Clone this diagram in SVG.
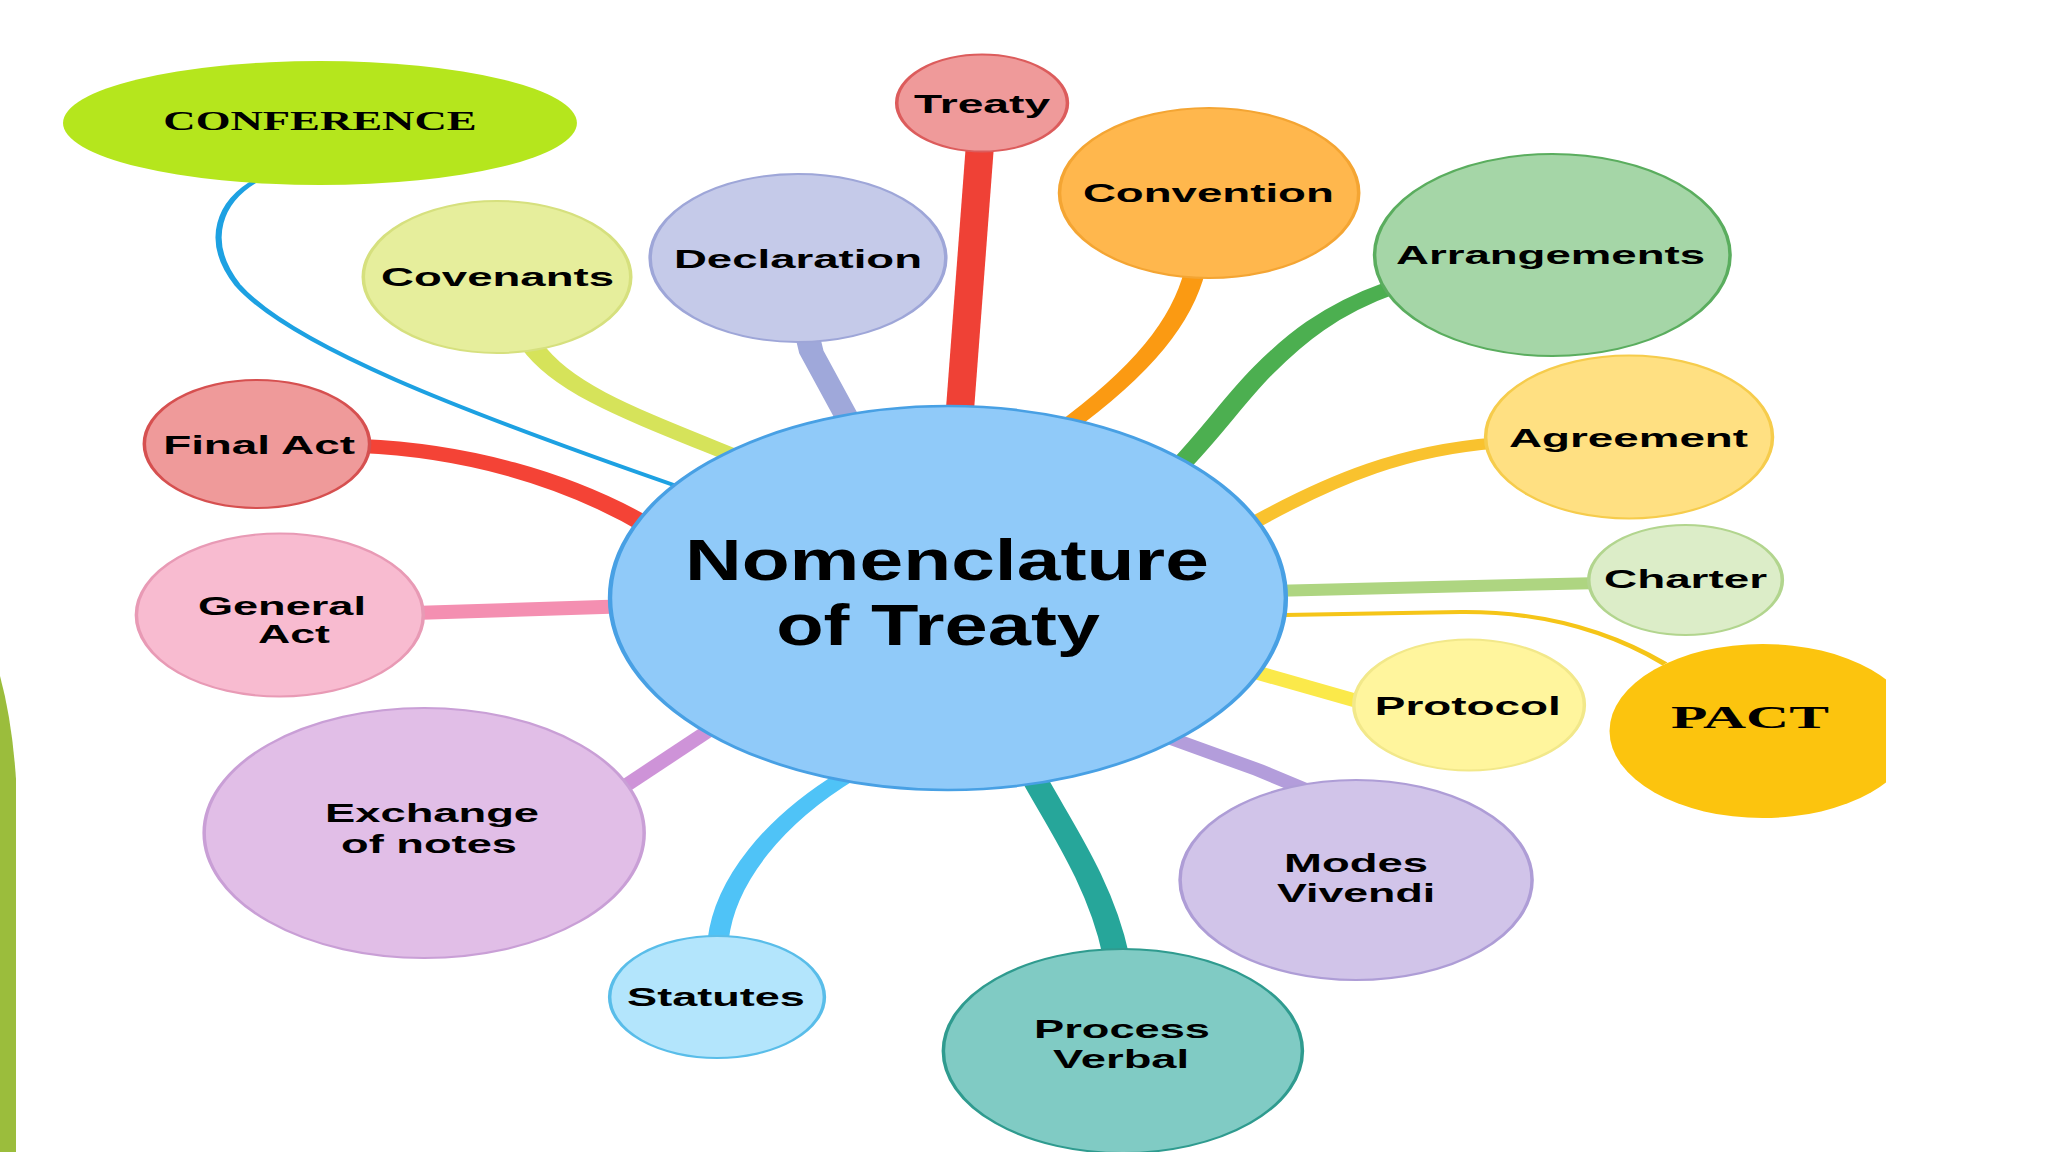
<svg xmlns="http://www.w3.org/2000/svg" width="2048" height="1152" viewBox="0 0 2048 1152">
<defs>
<style>
.lbl{font-family:"Liberation Sans",Arial,Helvetica,sans-serif;font-weight:bold;font-size:25.7px;fill:#000;text-anchor:middle}
.ser{font-family:"Liberation Serif","Times New Roman",serif;font-weight:bold;fill:#000;text-anchor:middle}
.title{font-size:57px}
.link{fill:none;stroke-linecap:butt;stroke-linejoin:round}
.node{stroke-width:2}
</style>
<clipPath id="pactClip"><rect x="880" y="600" width="191.6" height="260"/></clipPath>
</defs>
<rect width="2048" height="1152" fill="#ffffff"/>
<path id="sidebar" d="M0 676 Q12 720 16 779 L16 1152 L0 1152 Z" fill="#9bbd3c"/>
<g transform="scale(1.76 1)">
<g id="connectors">
<path class="link" d="M147 179 C125 200 115 240 135 285 C165 345 260 410 386 487" stroke="#1da1e2" stroke-width="3.5"/>
<path class="link" d="M557 140 L545 420" stroke="#ef4136" stroke-width="16"/>
<path class="link" d="M458 330 L461 352 L482 420" stroke="#9fa8da" stroke-width="14"/>
<path class="link" d="M679 270 C672 320 650 370 603 430" stroke="#fb9a12" stroke-width="12"/>
<path class="link" d="M790 288 C755 310 735 340 718 370 S690 430 668 470" stroke="#4caf50" stroke-width="13"/>
<path class="link" d="M850 443 C800 450 760 475 705 530" stroke="#f9c22e" stroke-width="11"/>
<path class="link" d="M720 591 L910 583" stroke="#aed581" stroke-width="12"/>
<path class="link" d="M730 615 L830 612 Q895 611 946 664" stroke="#f5c518" stroke-width="4"/>
<path class="link" d="M705 668 L775 703" stroke="#fbe94a" stroke-width="13"/>
<path class="link" d="M660 735 L715 770 L745 792" stroke="#b39ddb" stroke-width="12"/>
<path class="link" d="M585 770 C600 820 625 880 634 955" stroke="#26a69a" stroke-width="15"/>
<path class="link" d="M408 940 C412 880 440 820 482 775" stroke="#4fc3f7" stroke-width="12"/>
<path class="link" d="M350 792 L410 722" stroke="#ce93d8" stroke-width="11"/>
<path class="link" d="M235 613 L360 606" stroke="#f48fb1" stroke-width="14"/>
<path class="link" d="M205 446 C260 450 320 475 372 530" stroke="#f44336" stroke-width="14"/>
<path class="link" d="M302 345 C320 390 360 415 420 458" stroke="#d6e35a" stroke-width="13"/>
</g>
<g id="conference">
<ellipse cx="181.8" cy="123" rx="146" ry="62" fill="#b5e61d"/>
<text class="ser" x="181.8" y="130.4" font-size="27.8" textLength="178" lengthAdjust="spacingAndGlyphs">CONFERENCE</text>
</g>
<g id="treaty">
<circle class="node" cx="558" cy="103" r="48.5" fill="#ef9a9a" stroke="#dc5c5c"/>
<text class="lbl" x="558" y="113.1" textLength="77.3" lengthAdjust="spacingAndGlyphs">Treaty</text>
</g>
<g id="convention">
<circle class="node" cx="687" cy="193" r="85" fill="#ffb74d" stroke="#f4a533"/>
<text class="lbl" x="686.6" y="202" textLength="142.6" lengthAdjust="spacingAndGlyphs">Convention</text>
</g>
<g id="arrangements">
<circle class="node" cx="882" cy="255" r="101" fill="#a5d6a7" stroke="#5aad5e"/>
<text class="lbl" x="881" y="264.5" textLength="175.6" lengthAdjust="spacingAndGlyphs">Arrangements</text>
</g>
<g id="agreement">
<circle class="node" cx="925.6" cy="437" r="81.5" fill="#ffe082" stroke="#f6cc4c"/>
<text class="lbl" x="925.3" y="447.4" textLength="135.8" lengthAdjust="spacingAndGlyphs">Agreement</text>
</g>
<g id="charter">
<circle class="node" cx="957.7" cy="580" r="55" fill="#dcedc8" stroke="#b2d58e"/>
<text class="lbl" x="957.7" y="588.5" textLength="92.6" lengthAdjust="spacingAndGlyphs">Charter</text>
</g>
<g id="protocol">
<circle class="node" cx="834.7" cy="705" r="65.5" fill="#fff59d" stroke="#f2e88a"/>
<text class="lbl" x="834" y="715" textLength="105.7" lengthAdjust="spacingAndGlyphs">Protocol</text>
</g>
<g id="pact">
<circle cx="1001.5" cy="731" r="87" fill="#fcc40e" clip-path="url(#pactClip)"/>
<text class="ser" x="994.3" y="728" font-size="31.7" textLength="89.8" lengthAdjust="spacingAndGlyphs">PACT</text>
</g>
<g id="modes-vivendi">
<circle class="node" cx="770.5" cy="880" r="100" fill="#d1c4e9" stroke="#ae9dd6"/>
<text class="lbl" x="770.5" y="871.7" textLength="81.8" lengthAdjust="spacingAndGlyphs">Modes</text>
<text class="lbl" x="770.5" y="902" textLength="89.8" lengthAdjust="spacingAndGlyphs">Vivendi</text>
</g>
<g id="process-verbal">
<circle class="node" cx="638" cy="1051" r="102" fill="#80cbc4" stroke="#2f9b8f"/>
<text class="lbl" x="637.5" y="1037.8" textLength="100" lengthAdjust="spacingAndGlyphs">Process</text>
<text class="lbl" x="637" y="1068" textLength="77.3" lengthAdjust="spacingAndGlyphs">Verbal</text>
</g>
<g id="statutes">
<circle class="node" cx="407.4" cy="997" r="61" fill="#b3e5fc" stroke="#59bde9"/>
<text class="lbl" x="406.8" y="1005.8" textLength="101" lengthAdjust="spacingAndGlyphs">Statutes</text>
</g>
<g id="exchange-of-notes">
<circle class="node" cx="241" cy="833" r="125" fill="#e1bee7" stroke="#c99fd6"/>
<text class="lbl" x="245.5" y="822" textLength="121.6" lengthAdjust="spacingAndGlyphs">Exchange</text>
<text class="lbl" x="243.75" y="852.6" textLength="100" lengthAdjust="spacingAndGlyphs">of notes</text>
</g>
<g id="general-act">
<circle class="node" cx="159" cy="615" r="81.5" fill="#f8bbd0" stroke="#e89ab5"/>
<text class="lbl" x="160.2" y="614.6" textLength="95.5" lengthAdjust="spacingAndGlyphs">General</text>
<text class="lbl" x="167" y="643.2" textLength="40.9" lengthAdjust="spacingAndGlyphs">Act</text>
</g>
<g id="final-act">
<circle class="node" cx="146" cy="444" r="64" fill="#ef9a9a" stroke="#d65050"/>
<text class="lbl" x="147.2" y="453.7" textLength="109" lengthAdjust="spacingAndGlyphs">Final Act</text>
</g>
<g id="covenants">
<circle class="node" cx="282.4" cy="277" r="76" fill="#e6ee9c" stroke="#d6e07e"/>
<text class="lbl" x="282.7" y="286.5" textLength="132.4" lengthAdjust="spacingAndGlyphs">Covenants</text>
</g>
<g id="declaration">
<circle class="node" cx="453.4" cy="258" r="84" fill="#c5cae9" stroke="#9ea6d8"/>
<text class="lbl" x="453.4" y="268" textLength="140.9" lengthAdjust="spacingAndGlyphs">Declaration</text>
</g>
<g id="center">
<circle cx="538.6" cy="598" r="192" fill="#90caf9" stroke="#48a0e4" stroke-width="2.5"/>
<text class="lbl title" x="538" y="580" textLength="297.7" lengthAdjust="spacingAndGlyphs">Nomenclature</text>
<text class="lbl title" x="533" y="645" textLength="184" lengthAdjust="spacingAndGlyphs">of Treaty</text>
</g>
</g>
</svg>
